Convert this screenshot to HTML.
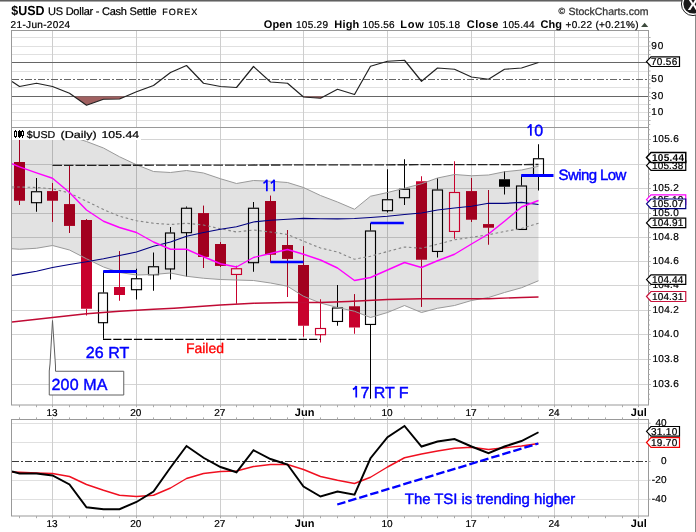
<!DOCTYPE html>
<html><head><meta charset="utf-8"><title>$USD chart</title>
<style>
html,body{margin:0;padding:0;background:#fff;}
body{width:696px;height:532px;overflow:hidden;}
svg{display:block;font-family:"Liberation Sans",sans-serif;text-rendering:geometricPrecision;will-change:transform;opacity:0.9999;}
</style></head><body>
<svg width="696" height="532" viewBox="0 0 696 532">
<rect width="696" height="532" fill="#fff"/>
<defs>
<clipPath id="cRSI"><rect x="12" y="31" width="637" height="96.5"/></clipPath>
<clipPath id="cMAIN"><rect x="12" y="128" width="637" height="277"/></clipPath>
<clipPath id="cTSI"><rect x="12" y="420" width="637" height="96"/></clipPath>
</defs>
<line x1="12" y1="37.5" x2="648.5" y2="37.5" stroke="#e0e0e0" stroke-width="1" />
<line x1="12" y1="46.5" x2="648.5" y2="46.5" stroke="#e0e0e0" stroke-width="1" />
<line x1="12" y1="54.5" x2="648.5" y2="54.5" stroke="#e0e0e0" stroke-width="1" />
<line x1="12" y1="71.5" x2="648.5" y2="71.5" stroke="#e0e0e0" stroke-width="1" />
<line x1="12" y1="87.5" x2="648.5" y2="87.5" stroke="#e0e0e0" stroke-width="1" />
<line x1="12" y1="104.5" x2="648.5" y2="104.5" stroke="#e0e0e0" stroke-width="1" />
<line x1="12" y1="112.5" x2="648.5" y2="112.5" stroke="#e0e0e0" stroke-width="1" />
<line x1="12" y1="120.5" x2="648.5" y2="120.5" stroke="#e0e0e0" stroke-width="1" />
<line x1="52.5" y1="30.5" x2="52.5" y2="127.5" stroke="#cecece" stroke-width="1"/>
<line x1="136.5" y1="30.5" x2="136.5" y2="127.5" stroke="#cecece" stroke-width="1"/>
<line x1="220.5" y1="30.5" x2="220.5" y2="127.5" stroke="#cecece" stroke-width="1"/>
<line x1="303.5" y1="30.5" x2="303.5" y2="127.5" stroke="#cecece" stroke-width="1"/>
<line x1="387.5" y1="30.5" x2="387.5" y2="127.5" stroke="#cecece" stroke-width="1"/>
<line x1="471.5" y1="30.5" x2="471.5" y2="127.5" stroke="#cecece" stroke-width="1"/>
<line x1="554.5" y1="30.5" x2="554.5" y2="127.5" stroke="#cecece" stroke-width="1"/>
<line x1="638.5" y1="30.5" x2="638.5" y2="127.5" stroke="#cecece" stroke-width="1"/>
<line x1="12" y1="62.5" x2="648.5" y2="62.5" stroke="#666" stroke-width="1" />
<line x1="12" y1="96.5" x2="648.5" y2="96.5" stroke="#666" stroke-width="1" />
<line x1="12" y1="79.5" x2="648.5" y2="79.5" stroke="#555" stroke-width="0.9" stroke-dasharray="7 2 2 2"/>
<g clip-path="url(#cRSI)">
<clipPath id="c30"><rect x="12" y="96.5" width="637" height="31"/></clipPath>
<polygon clip-path="url(#c30)" points="12,81.5 19.5,86.5 36.5,83.25 52.5,86.5 69.5,93.25 86.5,105.25 103.5,99.25 119.5,99 136.5,91.75 153.5,85.5 170.5,72.5 186.5,65.5 203.5,83.25 220.5,86.5 236.5,87.5 253.5,66.5 270.5,82 287.5,83.25 303.5,97 320.5,98.25 337.5,89.25 354.5,94.5 370.5,66.25 387.5,61.25 404.5,60.25 421.5,81.25 437.5,68 454.5,69.25 471.5,77 488.5,79.25 504.5,69.25 521.5,68 538.5,62.5 538.5,90 12,90" fill="#a06060"/>
<polyline points="12,81.5 19.5,86.5 36.5,83.25 52.5,86.5 69.5,93.25 86.5,105.25 103.5,99.25 119.5,99 136.5,91.75 153.5,85.5 170.5,72.5 186.5,65.5 203.5,83.25 220.5,86.5 236.5,87.5 253.5,66.5 270.5,82 287.5,83.25 303.5,97 320.5,98.25 337.5,89.25 354.5,94.5 370.5,66.25 387.5,61.25 404.5,60.25 421.5,81.25 437.5,68 454.5,69.25 471.5,77 488.5,79.25 504.5,69.25 521.5,68 538.5,62.5" fill="none" stroke="#222" stroke-width="1.2" stroke-linejoin="round"/>
</g>
<line x1="12" y1="139.5" x2="648.5" y2="139.5" stroke="#d4d4d4" stroke-width="1" />
<line x1="12" y1="164.5" x2="648.5" y2="164.5" stroke="#d4d4d4" stroke-width="1" />
<line x1="12" y1="188.5" x2="648.5" y2="188.5" stroke="#d4d4d4" stroke-width="1" />
<line x1="12" y1="213.5" x2="648.5" y2="213.5" stroke="#d4d4d4" stroke-width="1" />
<line x1="12" y1="237.5" x2="648.5" y2="237.5" stroke="#d4d4d4" stroke-width="1" />
<line x1="12" y1="261.5" x2="648.5" y2="261.5" stroke="#d4d4d4" stroke-width="1" />
<line x1="12" y1="285.5" x2="648.5" y2="285.5" stroke="#d4d4d4" stroke-width="1" />
<line x1="12" y1="310.5" x2="648.5" y2="310.5" stroke="#d4d4d4" stroke-width="1" />
<line x1="12" y1="334.5" x2="648.5" y2="334.5" stroke="#d4d4d4" stroke-width="1" />
<line x1="12" y1="359.5" x2="648.5" y2="359.5" stroke="#d4d4d4" stroke-width="1" />
<line x1="12" y1="384.5" x2="648.5" y2="384.5" stroke="#d4d4d4" stroke-width="1" />
<line x1="52.5" y1="127.5" x2="52.5" y2="405" stroke="#cecece" stroke-width="1"/>
<line x1="136.5" y1="127.5" x2="136.5" y2="405" stroke="#cecece" stroke-width="1"/>
<line x1="220.5" y1="127.5" x2="220.5" y2="405" stroke="#cecece" stroke-width="1"/>
<line x1="303.5" y1="127.5" x2="303.5" y2="405" stroke="#cecece" stroke-width="1"/>
<line x1="387.5" y1="127.5" x2="387.5" y2="405" stroke="#cecece" stroke-width="1"/>
<line x1="471.5" y1="127.5" x2="471.5" y2="405" stroke="#cecece" stroke-width="1"/>
<line x1="554.5" y1="127.5" x2="554.5" y2="405" stroke="#cecece" stroke-width="1"/>
<line x1="638.5" y1="127.5" x2="638.5" y2="405" stroke="#cecece" stroke-width="1"/>
<g clip-path="url(#cMAIN)">
<clipPath id="cBand"><polygon points="12,130 19.5,128.5 36.5,128 52.5,131 69.5,136 86.5,141.5 103.5,148 119.5,156.75 136.5,164.75 153.5,171.5 170.5,172.5 186.5,170.5 203.5,173 220.5,178.75 236.5,183.5 253.5,180.5 270.5,181.25 287.5,182.5 303.5,187.5 320.5,195.5 337.5,202 354.5,209.25 370.5,196.25 387.5,192.5 404.5,188.25 421.5,183.75 437.5,178 454.5,174.5 471.5,175.75 488.5,175 504.5,171.75 521.5,170 538.5,166.25 538.5,280.75 521.5,287.75 504.5,292.5 488.5,297.5 471.5,300.5 454.5,305.5 437.5,308.25 421.5,312.5 404.5,305.5 387.5,312.5 370.5,317.5 354.5,311.25 337.5,307.5 320.5,303 303.5,296.25 287.5,286.25 270.5,283 253.5,280.5 236.5,280 220.5,279.5 203.5,278.25 186.5,276.25 170.5,273 153.5,274.5 136.5,275 119.5,272.5 103.5,267 86.5,258.75 69.5,250 52.5,245.5 36.5,248.25 19.5,249.25 12,248.75"/></clipPath>
<polygon points="12,130 19.5,128.5 36.5,128 52.5,131 69.5,136 86.5,141.5 103.5,148 119.5,156.75 136.5,164.75 153.5,171.5 170.5,172.5 186.5,170.5 203.5,173 220.5,178.75 236.5,183.5 253.5,180.5 270.5,181.25 287.5,182.5 303.5,187.5 320.5,195.5 337.5,202 354.5,209.25 370.5,196.25 387.5,192.5 404.5,188.25 421.5,183.75 437.5,178 454.5,174.5 471.5,175.75 488.5,175 504.5,171.75 521.5,170 538.5,166.25 538.5,280.75 521.5,287.75 504.5,292.5 488.5,297.5 471.5,300.5 454.5,305.5 437.5,308.25 421.5,312.5 404.5,305.5 387.5,312.5 370.5,317.5 354.5,311.25 337.5,307.5 320.5,303 303.5,296.25 287.5,286.25 270.5,283 253.5,280.5 236.5,280 220.5,279.5 203.5,278.25 186.5,276.25 170.5,273 153.5,274.5 136.5,275 119.5,272.5 103.5,267 86.5,258.75 69.5,250 52.5,245.5 36.5,248.25 19.5,249.25 12,248.75" fill="#000" fill-opacity="0.115"/>
<rect x="19" y="140" width="1" height="22" fill="#c8002d"/><rect x="19" y="200.5" width="1" height="4.5" fill="#c8002d"/><rect x="14" y="162" width="11" height="38.5" fill="#c8002d"/><rect x="52" y="183" width="1" height="8.25" fill="#c8002d"/><rect x="52" y="200.5" width="1" height="21.25" fill="#c8002d"/><rect x="47" y="191.25" width="11" height="9.25" fill="#c8002d"/><rect x="69" y="165.5" width="1" height="38.75" fill="#c8002d"/><rect x="69" y="225.75" width="1" height="7.25" fill="#c8002d"/><rect x="64" y="204.25" width="11" height="21.5" fill="#c8002d"/><rect x="86" y="219.25" width="1" height="0.75" fill="#c8002d"/><rect x="86" y="308.75" width="1" height="6.75" fill="#c8002d"/><rect x="81" y="220" width="11" height="88.75" fill="#c8002d"/><rect x="119" y="251.25" width="1" height="35.75" fill="#c8002d"/><rect x="119" y="295" width="1" height="5.75" fill="#c8002d"/><rect x="114" y="287" width="11" height="8" fill="#c8002d"/><rect x="203" y="205.75" width="1" height="7.5" fill="#c8002d"/><rect x="203" y="256.75" width="1" height="11.25" fill="#c8002d"/><rect x="198" y="213.25" width="11" height="43.5" fill="#c8002d"/><rect x="220" y="242" width="1" height="2" fill="#c8002d"/><rect x="220" y="265.75" width="1" height="1.25" fill="#c8002d"/><rect x="215" y="244" width="11" height="21.75" fill="#c8002d"/><rect x="270" y="195.75" width="1" height="5.25" fill="#c8002d"/><rect x="270" y="254.5" width="1" height="8" fill="#c8002d"/><rect x="265" y="201" width="11" height="53.5" fill="#c8002d"/><rect x="287" y="230" width="1" height="15" fill="#c8002d"/><rect x="287" y="258.75" width="1" height="38.25" fill="#c8002d"/><rect x="282" y="245" width="11" height="13.75" fill="#c8002d"/><rect x="303" y="246.25" width="1" height="18.75" fill="#c8002d"/><rect x="303" y="325.75" width="1" height="11" fill="#c8002d"/><rect x="298" y="265" width="11" height="60.75" fill="#c8002d"/><rect x="354" y="294.25" width="1" height="12.25" fill="#c8002d"/><rect x="354" y="327.5" width="1" height="6.25" fill="#c8002d"/><rect x="349" y="306.5" width="11" height="21" fill="#c8002d"/><rect x="421" y="176.25" width="1" height="5" fill="#c8002d"/><rect x="421" y="259.5" width="1" height="47.25" fill="#c8002d"/><rect x="416" y="181.25" width="11" height="78.25" fill="#c8002d"/><rect x="471" y="178" width="1" height="13.25" fill="#c8002d"/><rect x="471" y="219.5" width="1" height="2.5" fill="#c8002d"/><rect x="466" y="191.25" width="11" height="28.25" fill="#c8002d"/><rect x="488" y="190" width="1" height="34.25" fill="#c8002d"/><rect x="488" y="227.5" width="1" height="17" fill="#c8002d"/><rect x="483" y="224.25" width="11" height="3.25" fill="#c8002d"/>
<g clip-path="url(#cBand)"><rect x="19" y="140" width="1" height="22" fill="#a2001f"/><rect x="19" y="200.5" width="1" height="4.5" fill="#a2001f"/><rect x="14" y="162" width="11" height="38.5" fill="#a2001f"/><rect x="52" y="183" width="1" height="8.25" fill="#a2001f"/><rect x="52" y="200.5" width="1" height="21.25" fill="#a2001f"/><rect x="47" y="191.25" width="11" height="9.25" fill="#a2001f"/><rect x="69" y="165.5" width="1" height="38.75" fill="#a2001f"/><rect x="69" y="225.75" width="1" height="7.25" fill="#a2001f"/><rect x="64" y="204.25" width="11" height="21.5" fill="#a2001f"/><rect x="86" y="219.25" width="1" height="0.75" fill="#a2001f"/><rect x="86" y="308.75" width="1" height="6.75" fill="#a2001f"/><rect x="81" y="220" width="11" height="88.75" fill="#a2001f"/><rect x="119" y="251.25" width="1" height="35.75" fill="#a2001f"/><rect x="119" y="295" width="1" height="5.75" fill="#a2001f"/><rect x="114" y="287" width="11" height="8" fill="#a2001f"/><rect x="203" y="205.75" width="1" height="7.5" fill="#a2001f"/><rect x="203" y="256.75" width="1" height="11.25" fill="#a2001f"/><rect x="198" y="213.25" width="11" height="43.5" fill="#a2001f"/><rect x="220" y="242" width="1" height="2" fill="#a2001f"/><rect x="220" y="265.75" width="1" height="1.25" fill="#a2001f"/><rect x="215" y="244" width="11" height="21.75" fill="#a2001f"/><rect x="270" y="195.75" width="1" height="5.25" fill="#a2001f"/><rect x="270" y="254.5" width="1" height="8" fill="#a2001f"/><rect x="265" y="201" width="11" height="53.5" fill="#a2001f"/><rect x="287" y="230" width="1" height="15" fill="#a2001f"/><rect x="287" y="258.75" width="1" height="38.25" fill="#a2001f"/><rect x="282" y="245" width="11" height="13.75" fill="#a2001f"/><rect x="303" y="246.25" width="1" height="18.75" fill="#a2001f"/><rect x="303" y="325.75" width="1" height="11" fill="#a2001f"/><rect x="298" y="265" width="11" height="60.75" fill="#a2001f"/><rect x="354" y="294.25" width="1" height="12.25" fill="#a2001f"/><rect x="354" y="327.5" width="1" height="6.25" fill="#a2001f"/><rect x="349" y="306.5" width="11" height="21" fill="#a2001f"/><rect x="421" y="176.25" width="1" height="5" fill="#a2001f"/><rect x="421" y="259.5" width="1" height="47.25" fill="#a2001f"/><rect x="416" y="181.25" width="11" height="78.25" fill="#a2001f"/><rect x="471" y="178" width="1" height="13.25" fill="#a2001f"/><rect x="471" y="219.5" width="1" height="2.5" fill="#a2001f"/><rect x="466" y="191.25" width="11" height="28.25" fill="#a2001f"/><rect x="488" y="190" width="1" height="34.25" fill="#a2001f"/><rect x="488" y="227.5" width="1" height="17" fill="#a2001f"/><rect x="483" y="224.25" width="11" height="3.25" fill="#a2001f"/></g>
<rect x="36" y="178" width="1" height="13.25" fill="#000"/><rect x="36" y="202.5" width="1" height="9.25" fill="#000"/><rect x="31.5" y="191.75" width="10" height="10.95" fill="#fff" fill-opacity="0.35" stroke="#000" stroke-width="1.15"/>
<rect x="103" y="271.25" width="1" height="21.25" fill="#000"/><rect x="103" y="322.5" width="1" height="16.25" fill="#000"/><rect x="98.5" y="293" width="9" height="29.7" fill="#fff" fill-opacity="0.08" stroke="#000" stroke-width="1.15"/>
<rect x="136" y="268.75" width="1" height="9.5" fill="#000"/><rect x="136" y="289.5" width="1" height="10" fill="#000"/><rect x="131.5" y="278.75" width="10" height="10.95" fill="#fff" fill-opacity="0.35" stroke="#000" stroke-width="1.15"/>
<rect x="153" y="252.5" width="1" height="13.75" fill="#000"/><rect x="153" y="274.5" width="1" height="16.25" fill="#000"/><rect x="148.5" y="266.75" width="10" height="7.95" fill="#fff" fill-opacity="0.35" stroke="#000" stroke-width="1.15"/>
<rect x="170" y="227" width="1" height="5.5" fill="#000"/><rect x="170" y="268.75" width="1" height="10.75" fill="#000"/><rect x="165.5" y="233" width="9" height="35.95" fill="#fff" fill-opacity="0.08" stroke="#000" stroke-width="1.15"/>
<rect x="186" y="206.5" width="1" height="1.25" fill="#000"/><rect x="186" y="232.5" width="1" height="44.25" fill="#000"/><rect x="181.5" y="208.25" width="10" height="24.45" fill="#fff" fill-opacity="0.08" stroke="#000" stroke-width="1.15"/>
<rect x="236" y="265.75" width="1" height="2.5" fill="#c8002d"/><rect x="236" y="274.25" width="1" height="29.5" fill="#c8002d"/><rect x="231.5" y="268.75" width="10" height="5.7" fill="#fff" fill-opacity="0.35" stroke="#c8002d" stroke-width="1.15"/>
<rect x="253" y="202" width="1" height="5.75" fill="#000"/><rect x="253" y="262.5" width="1" height="9.25" fill="#000"/><rect x="248.5" y="208.25" width="10" height="54.45" fill="#fff" fill-opacity="0.08" stroke="#000" stroke-width="1.15"/>
<rect x="320" y="299.25" width="1" height="28.75" fill="#c8002d"/><rect x="320" y="334.5" width="1" height="8" fill="#c8002d"/><rect x="315.5" y="328.5" width="10" height="6.2" fill="#fff" fill-opacity="0.35" stroke="#c8002d" stroke-width="1.15"/>
<rect x="337" y="285" width="1" height="22.5" fill="#000"/><rect x="337" y="321.25" width="1" height="4.5" fill="#000"/><rect x="332.5" y="308" width="10" height="13.45" fill="#fff" fill-opacity="0.35" stroke="#000" stroke-width="1.15"/>
<rect x="370" y="223" width="1" height="7.5" fill="#000"/><rect x="370" y="324.25" width="1" height="74.5" fill="#000"/><rect x="365.5" y="231" width="10" height="93.45" fill="#fff" fill-opacity="0.08" stroke="#000" stroke-width="1.15"/>
<rect x="387" y="169.25" width="1" height="30" fill="#000"/><rect x="387" y="210.5" width="1" height="2" fill="#000"/><rect x="382.5" y="199.75" width="10" height="10.95" fill="#fff" fill-opacity="0.35" stroke="#000" stroke-width="1.15"/>
<rect x="404" y="159.25" width="1" height="29.5" fill="#000"/><rect x="404" y="197.5" width="1" height="7.5" fill="#000"/><rect x="399.5" y="189.25" width="10" height="8.45" fill="#fff" fill-opacity="0.35" stroke="#000" stroke-width="1.15"/>
<rect x="437" y="178.25" width="1" height="11.25" fill="#000"/><rect x="437" y="251.25" width="1" height="6.25" fill="#000"/><rect x="432.5" y="190" width="10" height="61.45" fill="#fff" fill-opacity="0.08" stroke="#000" stroke-width="1.15"/>
<rect x="454" y="161.25" width="1" height="30.75" fill="#c8002d"/><rect x="454" y="231.25" width="1" height="7.5" fill="#c8002d"/><rect x="449.5" y="192.5" width="10" height="38.95" fill="#fff" fill-opacity="0.08" stroke="#c8002d" stroke-width="1.15"/>
<rect x="504" y="171.25" width="1" height="8" fill="#000"/><rect x="504" y="186.75" width="1" height="7.75" fill="#000"/><rect x="499" y="179.25" width="11" height="7.5" fill="#000"/>
<rect x="521" y="175.5" width="1" height="10" fill="#000"/><rect x="516.5" y="186" width="10" height="43.45" fill="#fff" fill-opacity="0.08" stroke="#000" stroke-width="1.15"/>
<rect x="538" y="144.25" width="1" height="14" fill="#000"/><rect x="538" y="175" width="1" height="15.5" fill="#000"/><rect x="533.5" y="158.75" width="10" height="16.45" fill="#fff" fill-opacity="0.08" stroke="#000" stroke-width="1.15"/>
<polyline points="12,130 19.5,128.5 36.5,128 52.5,131 69.5,136 86.5,141.5 103.5,148 119.5,156.75 136.5,164.75 153.5,171.5 170.5,172.5 186.5,170.5 203.5,173 220.5,178.75 236.5,183.5 253.5,180.5 270.5,181.25 287.5,182.5 303.5,187.5 320.5,195.5 337.5,202 354.5,209.25 370.5,196.25 387.5,192.5 404.5,188.25 421.5,183.75 437.5,178 454.5,174.5 471.5,175.75 488.5,175 504.5,171.75 521.5,170 538.5,166.25" fill="none" stroke="#999" stroke-width="1"/>
<polyline points="12,248.75 19.5,249.25 36.5,248.25 52.5,245.5 69.5,250 86.5,258.75 103.5,267 119.5,272.5 136.5,275 153.5,274.5 170.5,273 186.5,276.25 203.5,278.25 220.5,279.5 236.5,280 253.5,280.5 270.5,283 287.5,286.25 303.5,296.25 320.5,303 337.5,307.5 354.5,311.25 370.5,317.5 387.5,312.5 404.5,305.5 421.5,312.5 437.5,308.25 454.5,305.5 471.5,300.5 488.5,297.5 504.5,292.5 521.5,287.75 538.5,280.75" fill="none" stroke="#999" stroke-width="1"/>
<polyline points="12,187 19.5,187 36.5,187.5 52.5,188.75 69.5,193 86.5,201.25 103.5,209.5 119.5,216.25 136.5,220.75 153.5,223.25 170.5,224.5 186.5,223.25 203.5,225 220.5,228.75 236.5,232 253.5,230 270.5,232 287.5,234.5 303.5,241.25 320.5,248 337.5,252 354.5,259.25 370.5,256.25 387.5,251.5 404.5,247 421.5,248.25 437.5,244.25 454.5,239.75 471.5,237.25 488.5,234.75 504.5,231.5 521.5,228.5 538.5,223.25" fill="none" stroke="#858585" stroke-width="1.1" stroke-dasharray="2.6 2.6"/>
<polyline points="12,322 52.5,317.5 86.5,313.75 119.5,311.25 153.5,309.25 174,308.25 220.5,305 253.5,303.25 287.5,302.5 320.5,302.5 348,301.5 387.5,299.5 421.5,298.75 471.5,298.75 488.5,298.75 521.5,297.5 538.5,297" fill="none" stroke="#c00a34" stroke-width="1.3"/>
<polyline points="12,275.5 19.5,274.2 36.5,271.25 52.5,267.5 69.5,264.5 86.5,261.75 103.5,258.75 119.5,255.5 136.5,252 153.5,246.25 170.5,242 186.5,236.25 203.5,232.5 220.5,229.25 236.5,226.75 253.5,222 270.5,220.25 287.5,219.25 303.5,218.5 320.5,218.75 337.5,218.75 354.5,218.5 370.5,217.5 387.5,216.25 404.5,214.5 421.5,213 437.5,210 454.5,208 471.5,206.25 488.5,203.25 504.5,203.25 521.5,202.5 538.5,204.5" fill="none" stroke="#000080" stroke-width="1.25"/>
<polyline points="12,163.75 19.5,166.8 36.5,172.8 52.5,178.25 69.5,192.5 86.5,210 103.5,221.25 119.5,227.5 136.5,232.5 153.5,242 170.5,249.25 186.5,249.25 203.5,256.75 220.5,263.75 236.5,267 253.5,257.5 270.5,253.5 287.5,249.5 303.5,254.25 320.5,260 337.5,268 354.5,280.5 370.5,277.5 387.5,270 404.5,262.5 421.5,267.5 437.5,260.75 454.5,254.25 471.5,244 488.5,234 504.5,221.25 521.5,207 538.5,200.5" fill="none" stroke="#ff00ff" stroke-width="1.4" stroke-linejoin="round"/>
</g>
<rect x="12" y="128" width="129" height="12" fill="#fff"/>
<g shape-rendering="crispEdges"><rect x="14.5" y="131.5" width="2" height="5" fill="#fff" stroke="#000" stroke-width="1"/><rect x="15" y="130" width="1" height="1.5" fill="#000"/><rect x="15" y="136.5" width="1" height="1.5" fill="#000"/><rect x="17.5" y="131" width="3" height="6" fill="#000"/><rect x="18.5" y="130" width="1" height="8" fill="#000"/><rect x="21" y="131.5" width="2" height="4" fill="#fff" stroke="#000" stroke-width="1"/><rect x="21.5" y="130" width="1" height="1.5" fill="#000"/><rect x="21.5" y="135.5" width="1" height="2" fill="#000"/></g>
<line x1="52.5" y1="165.4" x2="538.5" y2="164.5" stroke="#222" stroke-width="1.3" stroke-dasharray="9.5 2"/>
<line x1="103" y1="339.35" x2="320.5" y2="339.35" stroke="#000" stroke-width="1.3" stroke-dasharray="8.3 2"/>
<line x1="103.2" y1="271.5" x2="136.8" y2="271.5" stroke="#0000ff" stroke-width="3"/>
<line x1="270.5" y1="262" x2="303.5" y2="262" stroke="#0000ff" stroke-width="2.5"/>
<line x1="370.5" y1="223" x2="403.8" y2="223" stroke="#0000ff" stroke-width="2.5"/>
<line x1="521.2" y1="175.5" x2="553.5" y2="175.5" stroke="#0000ff" stroke-width="3"/>
<polygon points="52.5,320.5 55.5,366 55.5,371.25 123.75,371.25 123.75,395 49.25,395 49.25,371 50,364" fill="#fff" stroke="#606060" stroke-width="1"/>
<line x1="12" y1="423.5" x2="648.5" y2="423.5" stroke="#e0e0e0" stroke-width="1" />
<line x1="12" y1="442.5" x2="648.5" y2="442.5" stroke="#e0e0e0" stroke-width="1" />
<line x1="12" y1="480.5" x2="648.5" y2="480.5" stroke="#e0e0e0" stroke-width="1" />
<line x1="12" y1="499.5" x2="648.5" y2="499.5" stroke="#e0e0e0" stroke-width="1" />
<line x1="52.5" y1="419.5" x2="52.5" y2="516" stroke="#cecece" stroke-width="1"/>
<line x1="136.5" y1="419.5" x2="136.5" y2="516" stroke="#cecece" stroke-width="1"/>
<line x1="220.5" y1="419.5" x2="220.5" y2="516" stroke="#cecece" stroke-width="1"/>
<line x1="303.5" y1="419.5" x2="303.5" y2="516" stroke="#cecece" stroke-width="1"/>
<line x1="387.5" y1="419.5" x2="387.5" y2="516" stroke="#cecece" stroke-width="1"/>
<line x1="471.5" y1="419.5" x2="471.5" y2="516" stroke="#cecece" stroke-width="1"/>
<line x1="554.5" y1="419.5" x2="554.5" y2="516" stroke="#cecece" stroke-width="1"/>
<line x1="638.5" y1="419.5" x2="638.5" y2="516" stroke="#cecece" stroke-width="1"/>
<line x1="12" y1="461.5" x2="648.5" y2="461.5" stroke="#3a3a3a" stroke-width="1.1" stroke-dasharray="7 2 2 2"/>
<g clip-path="url(#cTSI)">
<polyline points="12,472 19.5,472.3 36.5,473 52.5,473.5 69.5,476.5 86.5,484.5 103.5,490.25 119.5,495.25 136.5,496.5 153.5,495.25 170.5,488 186.5,478.5 203.5,473.5 220.5,471.5 236.5,471 253.5,466.5 270.5,464.5 287.5,464.5 303.5,469.5 320.5,476.5 337.5,480.25 354.5,483.5 370.5,477.25 387.5,467 404.5,457.75 421.5,454 437.5,451 454.5,448.25 471.5,447.25 488.5,449.5 504.5,447.75 521.5,446 538.5,443.5" fill="none" stroke="#f01020" stroke-width="1.45" stroke-linejoin="round"/>
<polyline points="12,471.5 19.5,473.5 36.5,473.5 52.5,475.5 69.5,484.5 86.5,507.25 103.5,509.25 119.5,509.25 136.5,502 153.5,491.5 170.5,467.5 186.5,446 203.5,457.75 220.5,467 236.5,472.25 253.5,450.25 270.5,459 287.5,464.5 303.5,486.5 320.5,496.5 337.5,491.5 354.5,494.75 370.5,458.25 387.5,437.25 404.5,426 421.5,446.5 437.5,441.5 454.5,439 471.5,446.5 488.5,453.25 504.5,446.5 521.5,441 538.5,432.25" fill="none" stroke="#000" stroke-width="1.95" stroke-linejoin="miter"/>
<line x1="337.25" y1="504.5" x2="538.25" y2="443.5" stroke="#0000ff" stroke-width="2.35" stroke-dasharray="8.5 3"/>
</g>
<rect x="11.5" y="30.5" width="637.0" height="97.0" fill="none" stroke="#999" stroke-width="1"/>
<rect x="11.5" y="127.5" width="637.0" height="277.5" fill="none" stroke="#999" stroke-width="1"/>
<rect x="11.5" y="419.5" width="637.0" height="96.5" fill="none" stroke="#999" stroke-width="1"/>
<line x1="19.5" y1="405" x2="19.5" y2="407.2" stroke="#aaa" stroke-width="1"/>
<line x1="19.5" y1="417.4" x2="19.5" y2="419.5" stroke="#aaa" stroke-width="1"/>
<line x1="19.5" y1="516" x2="19.5" y2="518.2" stroke="#aaa" stroke-width="1"/>
<line x1="36.5" y1="405" x2="36.5" y2="407.2" stroke="#aaa" stroke-width="1"/>
<line x1="36.5" y1="417.4" x2="36.5" y2="419.5" stroke="#aaa" stroke-width="1"/>
<line x1="36.5" y1="516" x2="36.5" y2="518.2" stroke="#aaa" stroke-width="1"/>
<line x1="52.5" y1="405" x2="52.5" y2="407.2" stroke="#aaa" stroke-width="1"/>
<line x1="52.5" y1="417.4" x2="52.5" y2="419.5" stroke="#aaa" stroke-width="1"/>
<line x1="52.5" y1="516" x2="52.5" y2="518.2" stroke="#aaa" stroke-width="1"/>
<line x1="69.5" y1="405" x2="69.5" y2="407.2" stroke="#aaa" stroke-width="1"/>
<line x1="69.5" y1="417.4" x2="69.5" y2="419.5" stroke="#aaa" stroke-width="1"/>
<line x1="69.5" y1="516" x2="69.5" y2="518.2" stroke="#aaa" stroke-width="1"/>
<line x1="86.5" y1="405" x2="86.5" y2="407.2" stroke="#aaa" stroke-width="1"/>
<line x1="86.5" y1="417.4" x2="86.5" y2="419.5" stroke="#aaa" stroke-width="1"/>
<line x1="86.5" y1="516" x2="86.5" y2="518.2" stroke="#aaa" stroke-width="1"/>
<line x1="103.5" y1="405" x2="103.5" y2="407.2" stroke="#aaa" stroke-width="1"/>
<line x1="103.5" y1="417.4" x2="103.5" y2="419.5" stroke="#aaa" stroke-width="1"/>
<line x1="103.5" y1="516" x2="103.5" y2="518.2" stroke="#aaa" stroke-width="1"/>
<line x1="119.5" y1="405" x2="119.5" y2="407.2" stroke="#aaa" stroke-width="1"/>
<line x1="119.5" y1="417.4" x2="119.5" y2="419.5" stroke="#aaa" stroke-width="1"/>
<line x1="119.5" y1="516" x2="119.5" y2="518.2" stroke="#aaa" stroke-width="1"/>
<line x1="136.5" y1="405" x2="136.5" y2="407.2" stroke="#aaa" stroke-width="1"/>
<line x1="136.5" y1="417.4" x2="136.5" y2="419.5" stroke="#aaa" stroke-width="1"/>
<line x1="136.5" y1="516" x2="136.5" y2="518.2" stroke="#aaa" stroke-width="1"/>
<line x1="153.5" y1="405" x2="153.5" y2="407.2" stroke="#aaa" stroke-width="1"/>
<line x1="153.5" y1="417.4" x2="153.5" y2="419.5" stroke="#aaa" stroke-width="1"/>
<line x1="153.5" y1="516" x2="153.5" y2="518.2" stroke="#aaa" stroke-width="1"/>
<line x1="170.5" y1="405" x2="170.5" y2="407.2" stroke="#aaa" stroke-width="1"/>
<line x1="170.5" y1="417.4" x2="170.5" y2="419.5" stroke="#aaa" stroke-width="1"/>
<line x1="170.5" y1="516" x2="170.5" y2="518.2" stroke="#aaa" stroke-width="1"/>
<line x1="186.5" y1="405" x2="186.5" y2="407.2" stroke="#aaa" stroke-width="1"/>
<line x1="186.5" y1="417.4" x2="186.5" y2="419.5" stroke="#aaa" stroke-width="1"/>
<line x1="186.5" y1="516" x2="186.5" y2="518.2" stroke="#aaa" stroke-width="1"/>
<line x1="203.5" y1="405" x2="203.5" y2="407.2" stroke="#aaa" stroke-width="1"/>
<line x1="203.5" y1="417.4" x2="203.5" y2="419.5" stroke="#aaa" stroke-width="1"/>
<line x1="203.5" y1="516" x2="203.5" y2="518.2" stroke="#aaa" stroke-width="1"/>
<line x1="220.5" y1="405" x2="220.5" y2="407.2" stroke="#aaa" stroke-width="1"/>
<line x1="220.5" y1="417.4" x2="220.5" y2="419.5" stroke="#aaa" stroke-width="1"/>
<line x1="220.5" y1="516" x2="220.5" y2="518.2" stroke="#aaa" stroke-width="1"/>
<line x1="236.5" y1="405" x2="236.5" y2="407.2" stroke="#aaa" stroke-width="1"/>
<line x1="236.5" y1="417.4" x2="236.5" y2="419.5" stroke="#aaa" stroke-width="1"/>
<line x1="236.5" y1="516" x2="236.5" y2="518.2" stroke="#aaa" stroke-width="1"/>
<line x1="253.5" y1="405" x2="253.5" y2="407.2" stroke="#aaa" stroke-width="1"/>
<line x1="253.5" y1="417.4" x2="253.5" y2="419.5" stroke="#aaa" stroke-width="1"/>
<line x1="253.5" y1="516" x2="253.5" y2="518.2" stroke="#aaa" stroke-width="1"/>
<line x1="270.5" y1="405" x2="270.5" y2="407.2" stroke="#aaa" stroke-width="1"/>
<line x1="270.5" y1="417.4" x2="270.5" y2="419.5" stroke="#aaa" stroke-width="1"/>
<line x1="270.5" y1="516" x2="270.5" y2="518.2" stroke="#aaa" stroke-width="1"/>
<line x1="287.5" y1="405" x2="287.5" y2="407.2" stroke="#aaa" stroke-width="1"/>
<line x1="287.5" y1="417.4" x2="287.5" y2="419.5" stroke="#aaa" stroke-width="1"/>
<line x1="287.5" y1="516" x2="287.5" y2="518.2" stroke="#aaa" stroke-width="1"/>
<line x1="303.5" y1="405" x2="303.5" y2="407.2" stroke="#aaa" stroke-width="1"/>
<line x1="303.5" y1="417.4" x2="303.5" y2="419.5" stroke="#aaa" stroke-width="1"/>
<line x1="303.5" y1="516" x2="303.5" y2="518.2" stroke="#aaa" stroke-width="1"/>
<line x1="320.5" y1="405" x2="320.5" y2="407.2" stroke="#aaa" stroke-width="1"/>
<line x1="320.5" y1="417.4" x2="320.5" y2="419.5" stroke="#aaa" stroke-width="1"/>
<line x1="320.5" y1="516" x2="320.5" y2="518.2" stroke="#aaa" stroke-width="1"/>
<line x1="337.5" y1="405" x2="337.5" y2="407.2" stroke="#aaa" stroke-width="1"/>
<line x1="337.5" y1="417.4" x2="337.5" y2="419.5" stroke="#aaa" stroke-width="1"/>
<line x1="337.5" y1="516" x2="337.5" y2="518.2" stroke="#aaa" stroke-width="1"/>
<line x1="354.5" y1="405" x2="354.5" y2="407.2" stroke="#aaa" stroke-width="1"/>
<line x1="354.5" y1="417.4" x2="354.5" y2="419.5" stroke="#aaa" stroke-width="1"/>
<line x1="354.5" y1="516" x2="354.5" y2="518.2" stroke="#aaa" stroke-width="1"/>
<line x1="370.5" y1="405" x2="370.5" y2="407.2" stroke="#aaa" stroke-width="1"/>
<line x1="370.5" y1="417.4" x2="370.5" y2="419.5" stroke="#aaa" stroke-width="1"/>
<line x1="370.5" y1="516" x2="370.5" y2="518.2" stroke="#aaa" stroke-width="1"/>
<line x1="387.5" y1="405" x2="387.5" y2="407.2" stroke="#aaa" stroke-width="1"/>
<line x1="387.5" y1="417.4" x2="387.5" y2="419.5" stroke="#aaa" stroke-width="1"/>
<line x1="387.5" y1="516" x2="387.5" y2="518.2" stroke="#aaa" stroke-width="1"/>
<line x1="404.5" y1="405" x2="404.5" y2="407.2" stroke="#aaa" stroke-width="1"/>
<line x1="404.5" y1="417.4" x2="404.5" y2="419.5" stroke="#aaa" stroke-width="1"/>
<line x1="404.5" y1="516" x2="404.5" y2="518.2" stroke="#aaa" stroke-width="1"/>
<line x1="421.5" y1="405" x2="421.5" y2="407.2" stroke="#aaa" stroke-width="1"/>
<line x1="421.5" y1="417.4" x2="421.5" y2="419.5" stroke="#aaa" stroke-width="1"/>
<line x1="421.5" y1="516" x2="421.5" y2="518.2" stroke="#aaa" stroke-width="1"/>
<line x1="437.5" y1="405" x2="437.5" y2="407.2" stroke="#aaa" stroke-width="1"/>
<line x1="437.5" y1="417.4" x2="437.5" y2="419.5" stroke="#aaa" stroke-width="1"/>
<line x1="437.5" y1="516" x2="437.5" y2="518.2" stroke="#aaa" stroke-width="1"/>
<line x1="454.5" y1="405" x2="454.5" y2="407.2" stroke="#aaa" stroke-width="1"/>
<line x1="454.5" y1="417.4" x2="454.5" y2="419.5" stroke="#aaa" stroke-width="1"/>
<line x1="454.5" y1="516" x2="454.5" y2="518.2" stroke="#aaa" stroke-width="1"/>
<line x1="471.5" y1="405" x2="471.5" y2="407.2" stroke="#aaa" stroke-width="1"/>
<line x1="471.5" y1="417.4" x2="471.5" y2="419.5" stroke="#aaa" stroke-width="1"/>
<line x1="471.5" y1="516" x2="471.5" y2="518.2" stroke="#aaa" stroke-width="1"/>
<line x1="488.5" y1="405" x2="488.5" y2="407.2" stroke="#aaa" stroke-width="1"/>
<line x1="488.5" y1="417.4" x2="488.5" y2="419.5" stroke="#aaa" stroke-width="1"/>
<line x1="488.5" y1="516" x2="488.5" y2="518.2" stroke="#aaa" stroke-width="1"/>
<line x1="504.5" y1="405" x2="504.5" y2="407.2" stroke="#aaa" stroke-width="1"/>
<line x1="504.5" y1="417.4" x2="504.5" y2="419.5" stroke="#aaa" stroke-width="1"/>
<line x1="504.5" y1="516" x2="504.5" y2="518.2" stroke="#aaa" stroke-width="1"/>
<line x1="521.5" y1="405" x2="521.5" y2="407.2" stroke="#aaa" stroke-width="1"/>
<line x1="521.5" y1="417.4" x2="521.5" y2="419.5" stroke="#aaa" stroke-width="1"/>
<line x1="521.5" y1="516" x2="521.5" y2="518.2" stroke="#aaa" stroke-width="1"/>
<line x1="538.5" y1="405" x2="538.5" y2="407.2" stroke="#aaa" stroke-width="1"/>
<line x1="538.5" y1="417.4" x2="538.5" y2="419.5" stroke="#aaa" stroke-width="1"/>
<line x1="538.5" y1="516" x2="538.5" y2="518.2" stroke="#aaa" stroke-width="1"/>
<line x1="554.5" y1="405" x2="554.5" y2="407.2" stroke="#aaa" stroke-width="1"/>
<line x1="554.5" y1="417.4" x2="554.5" y2="419.5" stroke="#aaa" stroke-width="1"/>
<line x1="554.5" y1="516" x2="554.5" y2="518.2" stroke="#aaa" stroke-width="1"/>
<line x1="571.5" y1="405" x2="571.5" y2="407.2" stroke="#aaa" stroke-width="1"/>
<line x1="571.5" y1="417.4" x2="571.5" y2="419.5" stroke="#aaa" stroke-width="1"/>
<line x1="571.5" y1="516" x2="571.5" y2="518.2" stroke="#aaa" stroke-width="1"/>
<line x1="588.5" y1="405" x2="588.5" y2="407.2" stroke="#aaa" stroke-width="1"/>
<line x1="588.5" y1="417.4" x2="588.5" y2="419.5" stroke="#aaa" stroke-width="1"/>
<line x1="588.5" y1="516" x2="588.5" y2="518.2" stroke="#aaa" stroke-width="1"/>
<line x1="605.5" y1="405" x2="605.5" y2="407.2" stroke="#aaa" stroke-width="1"/>
<line x1="605.5" y1="417.4" x2="605.5" y2="419.5" stroke="#aaa" stroke-width="1"/>
<line x1="605.5" y1="516" x2="605.5" y2="518.2" stroke="#aaa" stroke-width="1"/>
<line x1="622.5" y1="405" x2="622.5" y2="407.2" stroke="#aaa" stroke-width="1"/>
<line x1="622.5" y1="417.4" x2="622.5" y2="419.5" stroke="#aaa" stroke-width="1"/>
<line x1="622.5" y1="516" x2="622.5" y2="518.2" stroke="#aaa" stroke-width="1"/>
<line x1="638.5" y1="405" x2="638.5" y2="407.2" stroke="#aaa" stroke-width="1"/>
<line x1="638.5" y1="417.4" x2="638.5" y2="419.5" stroke="#aaa" stroke-width="1"/>
<line x1="638.5" y1="516" x2="638.5" y2="518.2" stroke="#aaa" stroke-width="1"/>
<line x1="648.5" y1="129.70" x2="649.9" y2="129.70" stroke="#b0b0b0" stroke-width="1"/>
<line x1="648.5" y1="134.60" x2="649.9" y2="134.60" stroke="#b0b0b0" stroke-width="1"/>
<line x1="648.5" y1="139.50" x2="650.9" y2="139.50" stroke="#b0b0b0" stroke-width="1"/>
<line x1="648.5" y1="144.50" x2="649.9" y2="144.50" stroke="#b0b0b0" stroke-width="1"/>
<line x1="648.5" y1="149.50" x2="649.9" y2="149.50" stroke="#b0b0b0" stroke-width="1"/>
<line x1="648.5" y1="154.50" x2="649.9" y2="154.50" stroke="#b0b0b0" stroke-width="1"/>
<line x1="648.5" y1="159.50" x2="649.9" y2="159.50" stroke="#b0b0b0" stroke-width="1"/>
<line x1="648.5" y1="164.50" x2="650.9" y2="164.50" stroke="#b0b0b0" stroke-width="1"/>
<line x1="648.5" y1="169.30" x2="649.9" y2="169.30" stroke="#b0b0b0" stroke-width="1"/>
<line x1="648.5" y1="174.10" x2="649.9" y2="174.10" stroke="#b0b0b0" stroke-width="1"/>
<line x1="648.5" y1="178.90" x2="649.9" y2="178.90" stroke="#b0b0b0" stroke-width="1"/>
<line x1="648.5" y1="183.70" x2="649.9" y2="183.70" stroke="#b0b0b0" stroke-width="1"/>
<line x1="648.5" y1="188.50" x2="650.9" y2="188.50" stroke="#b0b0b0" stroke-width="1"/>
<line x1="648.5" y1="193.50" x2="649.9" y2="193.50" stroke="#b0b0b0" stroke-width="1"/>
<line x1="648.5" y1="198.50" x2="649.9" y2="198.50" stroke="#b0b0b0" stroke-width="1"/>
<line x1="648.5" y1="203.50" x2="649.9" y2="203.50" stroke="#b0b0b0" stroke-width="1"/>
<line x1="648.5" y1="208.50" x2="649.9" y2="208.50" stroke="#b0b0b0" stroke-width="1"/>
<line x1="648.5" y1="213.50" x2="650.9" y2="213.50" stroke="#b0b0b0" stroke-width="1"/>
<line x1="648.5" y1="218.30" x2="649.9" y2="218.30" stroke="#b0b0b0" stroke-width="1"/>
<line x1="648.5" y1="223.10" x2="649.9" y2="223.10" stroke="#b0b0b0" stroke-width="1"/>
<line x1="648.5" y1="227.90" x2="649.9" y2="227.90" stroke="#b0b0b0" stroke-width="1"/>
<line x1="648.5" y1="232.70" x2="649.9" y2="232.70" stroke="#b0b0b0" stroke-width="1"/>
<line x1="648.5" y1="237.50" x2="650.9" y2="237.50" stroke="#b0b0b0" stroke-width="1"/>
<line x1="648.5" y1="242.30" x2="649.9" y2="242.30" stroke="#b0b0b0" stroke-width="1"/>
<line x1="648.5" y1="247.10" x2="649.9" y2="247.10" stroke="#b0b0b0" stroke-width="1"/>
<line x1="648.5" y1="251.90" x2="649.9" y2="251.90" stroke="#b0b0b0" stroke-width="1"/>
<line x1="648.5" y1="256.70" x2="649.9" y2="256.70" stroke="#b0b0b0" stroke-width="1"/>
<line x1="648.5" y1="261.50" x2="650.9" y2="261.50" stroke="#b0b0b0" stroke-width="1"/>
<line x1="648.5" y1="266.30" x2="649.9" y2="266.30" stroke="#b0b0b0" stroke-width="1"/>
<line x1="648.5" y1="271.10" x2="649.9" y2="271.10" stroke="#b0b0b0" stroke-width="1"/>
<line x1="648.5" y1="275.90" x2="649.9" y2="275.90" stroke="#b0b0b0" stroke-width="1"/>
<line x1="648.5" y1="280.70" x2="649.9" y2="280.70" stroke="#b0b0b0" stroke-width="1"/>
<line x1="648.5" y1="285.50" x2="650.9" y2="285.50" stroke="#b0b0b0" stroke-width="1"/>
<line x1="648.5" y1="290.50" x2="649.9" y2="290.50" stroke="#b0b0b0" stroke-width="1"/>
<line x1="648.5" y1="295.50" x2="649.9" y2="295.50" stroke="#b0b0b0" stroke-width="1"/>
<line x1="648.5" y1="300.50" x2="649.9" y2="300.50" stroke="#b0b0b0" stroke-width="1"/>
<line x1="648.5" y1="305.50" x2="649.9" y2="305.50" stroke="#b0b0b0" stroke-width="1"/>
<line x1="648.5" y1="310.50" x2="650.9" y2="310.50" stroke="#b0b0b0" stroke-width="1"/>
<line x1="648.5" y1="315.30" x2="649.9" y2="315.30" stroke="#b0b0b0" stroke-width="1"/>
<line x1="648.5" y1="320.10" x2="649.9" y2="320.10" stroke="#b0b0b0" stroke-width="1"/>
<line x1="648.5" y1="324.90" x2="649.9" y2="324.90" stroke="#b0b0b0" stroke-width="1"/>
<line x1="648.5" y1="329.70" x2="649.9" y2="329.70" stroke="#b0b0b0" stroke-width="1"/>
<line x1="648.5" y1="334.50" x2="650.9" y2="334.50" stroke="#b0b0b0" stroke-width="1"/>
<line x1="648.5" y1="339.50" x2="649.9" y2="339.50" stroke="#b0b0b0" stroke-width="1"/>
<line x1="648.5" y1="344.50" x2="649.9" y2="344.50" stroke="#b0b0b0" stroke-width="1"/>
<line x1="648.5" y1="349.50" x2="649.9" y2="349.50" stroke="#b0b0b0" stroke-width="1"/>
<line x1="648.5" y1="354.50" x2="649.9" y2="354.50" stroke="#b0b0b0" stroke-width="1"/>
<line x1="648.5" y1="359.50" x2="650.9" y2="359.50" stroke="#b0b0b0" stroke-width="1"/>
<line x1="648.5" y1="364.50" x2="649.9" y2="364.50" stroke="#b0b0b0" stroke-width="1"/>
<line x1="648.5" y1="369.50" x2="649.9" y2="369.50" stroke="#b0b0b0" stroke-width="1"/>
<line x1="648.5" y1="374.50" x2="649.9" y2="374.50" stroke="#b0b0b0" stroke-width="1"/>
<line x1="648.5" y1="379.50" x2="649.9" y2="379.50" stroke="#b0b0b0" stroke-width="1"/>
<line x1="648.5" y1="384.50" x2="650.9" y2="384.50" stroke="#b0b0b0" stroke-width="1"/>
<line x1="648.5" y1="389.40" x2="649.9" y2="389.40" stroke="#b0b0b0" stroke-width="1"/>
<line x1="648.5" y1="394.30" x2="649.9" y2="394.30" stroke="#b0b0b0" stroke-width="1"/>
<line x1="648.5" y1="399.20" x2="649.9" y2="399.20" stroke="#b0b0b0" stroke-width="1"/>
<line x1="648.5" y1="37.5" x2="650.6" y2="37.5" stroke="#b0b0b0" stroke-width="1"/>
<line x1="648.5" y1="46" x2="650.6" y2="46" stroke="#b0b0b0" stroke-width="1"/>
<line x1="648.5" y1="54.5" x2="650.6" y2="54.5" stroke="#b0b0b0" stroke-width="1"/>
<line x1="648.5" y1="62.5" x2="650.6" y2="62.5" stroke="#b0b0b0" stroke-width="1"/>
<line x1="648.5" y1="71" x2="650.6" y2="71" stroke="#b0b0b0" stroke-width="1"/>
<line x1="648.5" y1="79.5" x2="650.6" y2="79.5" stroke="#b0b0b0" stroke-width="1"/>
<line x1="648.5" y1="88" x2="650.6" y2="88" stroke="#b0b0b0" stroke-width="1"/>
<line x1="648.5" y1="96.5" x2="650.6" y2="96.5" stroke="#b0b0b0" stroke-width="1"/>
<line x1="648.5" y1="104.5" x2="650.6" y2="104.5" stroke="#b0b0b0" stroke-width="1"/>
<line x1="648.5" y1="112.5" x2="650.6" y2="112.5" stroke="#b0b0b0" stroke-width="1"/>
<line x1="648.5" y1="120.5" x2="650.6" y2="120.5" stroke="#b0b0b0" stroke-width="1"/>
<line x1="648.5" y1="41.75" x2="650.3" y2="41.75" stroke="#b0b0b0" stroke-width="1"/>
<line x1="648.5" y1="50.25" x2="650.3" y2="50.25" stroke="#b0b0b0" stroke-width="1"/>
<line x1="648.5" y1="58.5" x2="650.3" y2="58.5" stroke="#b0b0b0" stroke-width="1"/>
<line x1="648.5" y1="66.75" x2="650.3" y2="66.75" stroke="#b0b0b0" stroke-width="1"/>
<line x1="648.5" y1="75.25" x2="650.3" y2="75.25" stroke="#b0b0b0" stroke-width="1"/>
<line x1="648.5" y1="83.75" x2="650.3" y2="83.75" stroke="#b0b0b0" stroke-width="1"/>
<line x1="648.5" y1="92.25" x2="650.3" y2="92.25" stroke="#b0b0b0" stroke-width="1"/>
<line x1="648.5" y1="100.5" x2="650.3" y2="100.5" stroke="#b0b0b0" stroke-width="1"/>
<line x1="648.5" y1="108.5" x2="650.3" y2="108.5" stroke="#b0b0b0" stroke-width="1"/>
<line x1="648.5" y1="116.5" x2="650.3" y2="116.5" stroke="#b0b0b0" stroke-width="1"/>
<line x1="648.5" y1="124.5" x2="650.3" y2="124.5" stroke="#b0b0b0" stroke-width="1"/>
<line x1="648.5" y1="423.25" x2="650.6" y2="423.25" stroke="#b0b0b0" stroke-width="1"/>
<line x1="648.5" y1="442.5" x2="650.6" y2="442.5" stroke="#b0b0b0" stroke-width="1"/>
<line x1="648.5" y1="461.5" x2="650.6" y2="461.5" stroke="#b0b0b0" stroke-width="1"/>
<line x1="648.5" y1="480.25" x2="650.6" y2="480.25" stroke="#b0b0b0" stroke-width="1"/>
<line x1="648.5" y1="499.25" x2="650.6" y2="499.25" stroke="#b0b0b0" stroke-width="1"/>
<text x="11.3" y="14.6" font-size="13.2" font-weight="bold" fill="#000" text-anchor="start" textLength="33.3" lengthAdjust="spacingAndGlyphs" >$USD</text>
<text x="48" y="14.5" font-size="11" font-weight="normal" fill="#000" text-anchor="start" textLength="108.5" lengthAdjust="spacing"  stroke="#000" stroke-width="0.22">US Dollar - Cash Settle</text>
<text x="162.3" y="14.5" font-size="9" font-weight="normal" fill="#000" text-anchor="start" textLength="35" lengthAdjust="spacing"  stroke="#000" stroke-width="0.22">FOREX</text>
<text x="10.6" y="27.5" font-size="10" font-weight="normal" fill="#000" text-anchor="start" textLength="59.5" lengthAdjust="spacing"  stroke="#000" stroke-width="0.22">21-Jun-2024</text>
<text x="263.8" y="27.5" font-size="11" font-weight="bold" fill="#000" text-anchor="start" textLength="28.5" lengthAdjust="spacing" >Open</text>
<text x="296" y="27.5" font-size="10" font-weight="normal" fill="#000" text-anchor="start" textLength="32" lengthAdjust="spacing"  stroke="#000" stroke-width="0.22">105.29</text>
<text x="334.3" y="27.5" font-size="11" font-weight="bold" fill="#000" text-anchor="start" textLength="25" lengthAdjust="spacing" >High</text>
<text x="362.6" y="27.5" font-size="10" font-weight="normal" fill="#000" text-anchor="start" textLength="32" lengthAdjust="spacing"  stroke="#000" stroke-width="0.22">105.56</text>
<text x="400.3" y="27.5" font-size="11" font-weight="bold" fill="#000" text-anchor="start" textLength="23.5" lengthAdjust="spacing" >Low</text>
<text x="428" y="27.5" font-size="10" font-weight="normal" fill="#000" text-anchor="start" textLength="32" lengthAdjust="spacing"  stroke="#000" stroke-width="0.22">105.18</text>
<text x="466.8" y="27.5" font-size="11" font-weight="bold" fill="#000" text-anchor="start" textLength="31.5" lengthAdjust="spacing" >Close</text>
<text x="502.6" y="27.5" font-size="10" font-weight="normal" fill="#000" text-anchor="start" textLength="32" lengthAdjust="spacing"  stroke="#000" stroke-width="0.22">105.44</text>
<text x="540.5" y="27.5" font-size="11" font-weight="bold" fill="#000" text-anchor="start" textLength="21.5" lengthAdjust="spacing" >Chg</text>
<text x="565.5" y="27.5" font-size="10" font-weight="normal" fill="#000" text-anchor="start" textLength="73" lengthAdjust="spacing"  stroke="#000" stroke-width="0.22">+0.22 (+0.21%)</text>
<polygon points="641.1,27 648.2,27 644.65,22.7" fill="#3c4a3c"/>
<text x="558.6" y="14.4" font-size="9" font-weight="normal" fill="#333" text-anchor="start" stroke="#333" stroke-width="0.3">&#169;</text>
<text x="568.5" y="14.5" font-size="10.5" font-weight="normal" fill="#333" text-anchor="start" textLength="80" lengthAdjust="spacingAndGlyphs" stroke="#333" stroke-width="0.25">StockCharts.com</text>
<text x="26.8" y="138" font-size="10" font-weight="normal" fill="#000" text-anchor="start" textLength="28.4" lengthAdjust="spacingAndGlyphs"  stroke="#000" stroke-width="0.22">$USD</text>
<text x="60.6" y="138" font-size="10" font-weight="normal" fill="#000" text-anchor="start" textLength="36.2" lengthAdjust="spacingAndGlyphs"  stroke="#000" stroke-width="0.22">(Daily)</text>
<text x="101.5" y="138" font-size="10" font-weight="normal" fill="#000" text-anchor="start" textLength="37.6" lengthAdjust="spacingAndGlyphs"  stroke="#000" stroke-width="0.22">105.44</text>
<text x="651.3" y="48.9" font-size="10" font-weight="normal" fill="#000" text-anchor="start" textLength="12" lengthAdjust="spacing"  stroke="#000" stroke-width="0.22">90</text>
<text x="651.3" y="82.4" font-size="10" font-weight="normal" fill="#000" text-anchor="start" textLength="12" lengthAdjust="spacing"  stroke="#000" stroke-width="0.22">50</text>
<text x="651.3" y="99.4" font-size="10" font-weight="normal" fill="#000" text-anchor="start" textLength="12" lengthAdjust="spacing"  stroke="#000" stroke-width="0.22">30</text>
<text x="651.3" y="115.4" font-size="10" font-weight="normal" fill="#000" text-anchor="start" textLength="12" lengthAdjust="spacing"  stroke="#000" stroke-width="0.22">10</text>
<text x="652.4" y="142.2" font-size="10" font-weight="normal" fill="#000" text-anchor="start" textLength="26.3" lengthAdjust="spacing"  stroke="#000" stroke-width="0.22">105.6</text>
<text x="652.4" y="191.2" font-size="10" font-weight="normal" fill="#000" text-anchor="start" textLength="26.3" lengthAdjust="spacing"  stroke="#000" stroke-width="0.22">105.2</text>
<text x="652.4" y="216.2" font-size="10" font-weight="normal" fill="#000" text-anchor="start" textLength="26.3" lengthAdjust="spacing"  stroke="#000" stroke-width="0.22">105.0</text>
<text x="652.4" y="240.2" font-size="10" font-weight="normal" fill="#000" text-anchor="start" textLength="26.3" lengthAdjust="spacing"  stroke="#000" stroke-width="0.22">104.8</text>
<text x="652.4" y="264.2" font-size="10" font-weight="normal" fill="#000" text-anchor="start" textLength="26.3" lengthAdjust="spacing"  stroke="#000" stroke-width="0.22">104.6</text>
<text x="652.4" y="288.2" font-size="10" font-weight="normal" fill="#000" text-anchor="start" textLength="26.3" lengthAdjust="spacing"  stroke="#000" stroke-width="0.22">104.4</text>
<text x="652.4" y="313.2" font-size="10" font-weight="normal" fill="#000" text-anchor="start" textLength="26.3" lengthAdjust="spacing"  stroke="#000" stroke-width="0.22">104.2</text>
<text x="652.4" y="337.2" font-size="10" font-weight="normal" fill="#000" text-anchor="start" textLength="26.3" lengthAdjust="spacing"  stroke="#000" stroke-width="0.22">104.0</text>
<text x="652.4" y="362.2" font-size="10" font-weight="normal" fill="#000" text-anchor="start" textLength="26.3" lengthAdjust="spacing"  stroke="#000" stroke-width="0.22">103.8</text>
<text x="652.4" y="387.2" font-size="10" font-weight="normal" fill="#000" text-anchor="start" textLength="26.3" lengthAdjust="spacing"  stroke="#000" stroke-width="0.22">103.6</text>
<polygon points="646.5,165.6 651,160.79999999999998 685.75,160.79999999999998 685.75,170.4 651,170.4" fill="#fff" stroke="#000" stroke-width="1.2" stroke-linejoin="miter"/>
<text x="652" y="169.15" font-size="10" font-weight="normal" fill="#000" text-anchor="start" textLength="31.3" lengthAdjust="spacing"  stroke="#000" stroke-width="0.22">105.38</text>
<polygon points="646.5,157.6 651,152.6 685.75,152.6 685.75,162.6 651,162.6" fill="#fff" stroke="#000" stroke-width="1.5" stroke-linejoin="miter"/>
<text x="652" y="161.15" font-size="10" font-weight="bold" fill="#000" text-anchor="start" textLength="32" lengthAdjust="spacing" >105.44</text>
<polygon points="646.5,199.6 651,194.79999999999998 685.75,194.79999999999998 685.75,204.4 651,204.4" fill="#fff" stroke="#ff00ff" stroke-width="1.2" stroke-linejoin="miter"/>
<text x="652" y="203.15" font-size="10" font-weight="normal" fill="#000" text-anchor="start" textLength="31.3" lengthAdjust="spacing"  stroke="#000" stroke-width="0.22">105.10</text>
<polygon points="646.5,203.8 651,199.0 685.75,199.0 685.75,208.60000000000002 651,208.60000000000002" fill="#fff" stroke="#000080" stroke-width="1.2" stroke-linejoin="miter"/>
<text x="652" y="207.35000000000002" font-size="10" font-weight="normal" fill="#000" text-anchor="start" textLength="31.3" lengthAdjust="spacing"  stroke="#000" stroke-width="0.22">105.07</text>
<polygon points="646.5,222.9 651,218.1 685.75,218.1 685.75,227.70000000000002 651,227.70000000000002" fill="#fff" stroke="#000" stroke-width="1.2" stroke-linejoin="miter"/>
<text x="652" y="226.45000000000002" font-size="10" font-weight="normal" fill="#000" text-anchor="start" textLength="31.3" lengthAdjust="spacing"  stroke="#000" stroke-width="0.22">104.91</text>
<polygon points="646.5,279.6 651,274.8 685.75,274.8 685.75,284.40000000000003 651,284.40000000000003" fill="#fff" stroke="#000" stroke-width="1.2" stroke-linejoin="miter"/>
<text x="652" y="283.15000000000003" font-size="10" font-weight="normal" fill="#000" text-anchor="start" textLength="31.3" lengthAdjust="spacing"  stroke="#000" stroke-width="0.22">104.44</text>
<polygon points="646.5,296.5 651,291.5 685.75,291.5 685.75,301.5 651,301.5" fill="#fff" stroke="#c8143c" stroke-width="1.2" stroke-linejoin="miter"/>
<text x="652" y="300.05" font-size="10" font-weight="normal" fill="#000" text-anchor="start" textLength="31.3" lengthAdjust="spacing"  stroke="#000" stroke-width="0.22">104.31</text>
<polygon points="646.5,61.7 651,56.900000000000006 679.5,56.900000000000006 679.5,66.5 651,66.5" fill="#fff" stroke="#000" stroke-width="1.2" stroke-linejoin="miter"/>
<text x="650.9" y="65.25" font-size="10" font-weight="normal" fill="#000" text-anchor="start" textLength="26.4" lengthAdjust="spacing"  stroke="#000" stroke-width="0.22">70.56</text>
<polygon points="646.5,431.3 651,426.5 679.5,426.5 679.5,436.1 651,436.1" fill="#fff" stroke="#000" stroke-width="1.2" stroke-linejoin="miter"/>
<text x="650.9" y="434.85" font-size="10" font-weight="normal" fill="#000" text-anchor="start" textLength="26.4" lengthAdjust="spacing"  stroke="#000" stroke-width="0.22">31.10</text>
<polygon points="646.5,442.5 651,437.7 679.5,437.7 679.5,447.3 651,447.3" fill="#fff" stroke="#f00000" stroke-width="1.2" stroke-linejoin="miter"/>
<text x="650.9" y="446.05" font-size="10" font-weight="normal" fill="#000" text-anchor="start" textLength="26.4" lengthAdjust="spacing"  stroke="#000" stroke-width="0.22">19.70</text>
<text x="666.6" y="425.7" font-size="10" font-weight="normal" fill="#000" text-anchor="end"  stroke="#000" stroke-width="0.22">40</text>
<text x="666.6" y="463.8" font-size="10" font-weight="normal" fill="#000" text-anchor="end"  stroke="#000" stroke-width="0.22">0</text>
<text x="651.7" y="483" font-size="10" font-weight="normal" fill="#000" text-anchor="start" textLength="14.8" lengthAdjust="spacing"  stroke="#000" stroke-width="0.22">-20</text>
<text x="651.7" y="502" font-size="10" font-weight="normal" fill="#000" text-anchor="start" textLength="14.8" lengthAdjust="spacing"  stroke="#000" stroke-width="0.22">-40</text>
<text x="52.1" y="416" font-size="10" font-weight="normal" fill="#000" text-anchor="middle"  stroke="#000" stroke-width="0.22">13</text>
<text x="135.7" y="416" font-size="10" font-weight="normal" fill="#000" text-anchor="middle"  stroke="#000" stroke-width="0.22">20</text>
<text x="219.7" y="416" font-size="10" font-weight="normal" fill="#000" text-anchor="middle"  stroke="#000" stroke-width="0.22">27</text>
<text x="387.1" y="416" font-size="10" font-weight="normal" fill="#000" text-anchor="middle"  stroke="#000" stroke-width="0.22">10</text>
<text x="471.1" y="416" font-size="10" font-weight="normal" fill="#000" text-anchor="middle"  stroke="#000" stroke-width="0.22">17</text>
<text x="554.1" y="416" font-size="10" font-weight="normal" fill="#000" text-anchor="middle"  stroke="#000" stroke-width="0.22">24</text>
<text x="304.6" y="416" font-size="11" font-weight="bold" fill="#000" text-anchor="middle" >Jun</text>
<text x="638.8" y="416" font-size="11" font-weight="bold" fill="#000" text-anchor="middle" >Jul</text>
<text x="52.1" y="526.8" font-size="10" font-weight="normal" fill="#000" text-anchor="middle"  stroke="#000" stroke-width="0.22">13</text>
<text x="135.7" y="526.8" font-size="10" font-weight="normal" fill="#000" text-anchor="middle"  stroke="#000" stroke-width="0.22">20</text>
<text x="219.7" y="526.8" font-size="10" font-weight="normal" fill="#000" text-anchor="middle"  stroke="#000" stroke-width="0.22">27</text>
<text x="387.1" y="526.8" font-size="10" font-weight="normal" fill="#000" text-anchor="middle"  stroke="#000" stroke-width="0.22">10</text>
<text x="471.1" y="526.8" font-size="10" font-weight="normal" fill="#000" text-anchor="middle"  stroke="#000" stroke-width="0.22">17</text>
<text x="554.1" y="526.8" font-size="10" font-weight="normal" fill="#000" text-anchor="middle"  stroke="#000" stroke-width="0.22">24</text>
<text x="304.6" y="526.8" font-size="11" font-weight="bold" fill="#000" text-anchor="middle" >Jun</text>
<text x="638.8" y="526.8" font-size="11" font-weight="bold" fill="#000" text-anchor="middle" >Jul</text>
<text x="85.8" y="357.5" font-size="16" font-weight="normal" fill="#0000ff" text-anchor="start" textLength="43.5" lengthAdjust="spacing" stroke="#0000ff" stroke-width="0.42">26 RT</text>
<text x="51.5" y="390" font-size="16" font-weight="normal" fill="#0000ff" text-anchor="start" textLength="56" lengthAdjust="spacing" stroke="#0000ff" stroke-width="0.42">200 MA</text>
<path d="M263.50,183.20 Q265.90,182.10 266.85,179.85 L266.85,191.30" fill="none" stroke="#0000ff" stroke-width="1.75" stroke-linejoin="miter"/>
<path d="M270.80,183.20 Q273.20,182.10 274.15,179.85 L274.15,191.30" fill="none" stroke="#0000ff" stroke-width="1.75" stroke-linejoin="miter"/>
<path d="M352.90,389.40 Q355.30,388.30 356.25,386.05 L356.25,397.50" fill="none" stroke="#0000ff" stroke-width="1.75" stroke-linejoin="miter"/>
<text x="360.6" y="397.5" font-size="16" font-weight="normal" fill="#0000ff" text-anchor="start" textLength="48" lengthAdjust="spacing" stroke="#0000ff" stroke-width="0.42">7 RT F</text>
<path d="M527.50,127.70 Q529.90,126.60 530.85,124.35 L530.85,135.80" fill="none" stroke="#0000ff" stroke-width="1.75" stroke-linejoin="miter"/>
<text x="534.3" y="135.8" font-size="16" font-weight="normal" fill="#0000ff" text-anchor="start" stroke="#0000ff" stroke-width="0.42">0</text>
<text x="558.6" y="180" font-size="15" font-weight="normal" fill="#0000ff" text-anchor="start" textLength="67.8" lengthAdjust="spacing" stroke="#0000ff" stroke-width="0.42">Swing Low</text>
<text x="404.8" y="504" font-size="15" font-weight="normal" fill="#0000ff" text-anchor="start" textLength="170.5" lengthAdjust="spacing" stroke="#0000ff" stroke-width="0.42">The TSI is trending higher</text>
<text x="186" y="352.5" font-size="14" font-weight="normal" fill="#f00" text-anchor="start" textLength="38" lengthAdjust="spacing" stroke="#f00" stroke-width="0.3">Failed</text>
<rect x="0" y="0" width="696" height="1" fill="#606060"/><rect x="0" y="1" width="696" height="1" fill="#a8a8a8"/>
<rect x="695" y="2" width="1" height="530" fill="#888"/>
<circle cx="693" cy="4" r="11.6" fill="#fff" stroke="#222" stroke-width="1"/><circle cx="693" cy="4" r="9.6" fill="#1a1a1a"/>
<text x="693" y="9.8" font-size="16" font-weight="bold" fill="#fff" text-anchor="middle" >X</text>
</svg>
</body></html>
